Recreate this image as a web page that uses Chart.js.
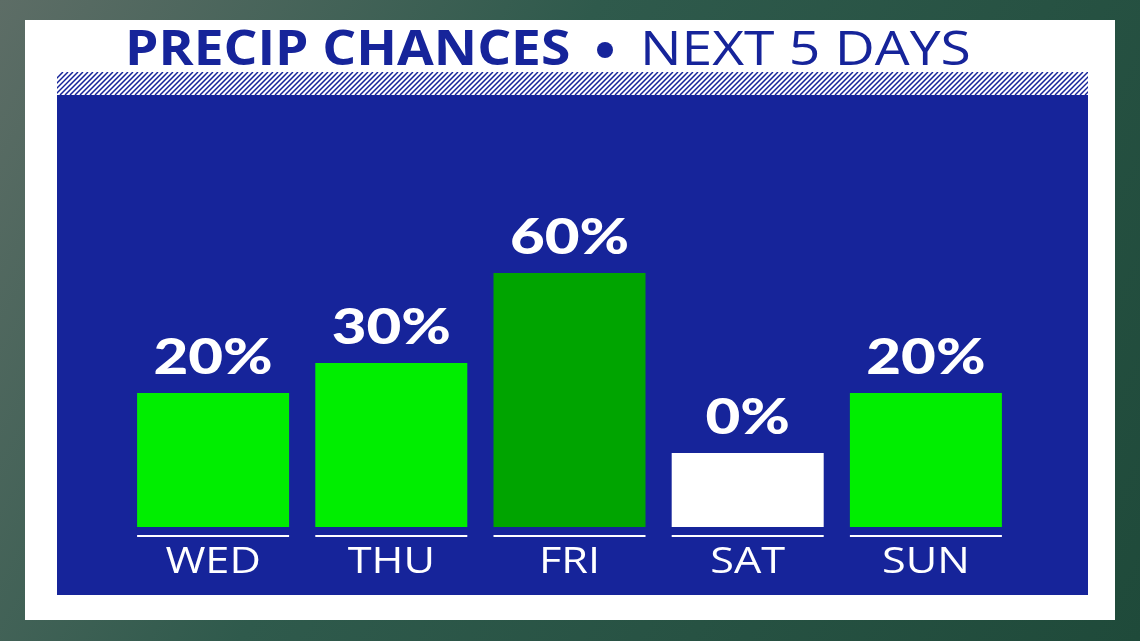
<!DOCTYPE html>
<html><head><meta charset="utf-8">
<script src="https://cdn.jsdelivr.net/npm/chart.js@4"></script>
<style>html,body{margin:0;padding:0;background:#2d4a44}canvas{display:block}</style>
</head><body>
<div style="width:1140px;height:641px"><canvas id="c" width="1140" height="641"></canvas></div>
<script>
const days = ["WED","THU","FRI","SAT","SUN"];
const chances = [20,30,60,0,20];
const labels = ["20%","30%","60%","0%","20%"];
const barColors = ["#00ee00","#00ee00","#00a400","#ffffff","#00ee00"];
const BLUE = "#16249a";

function stretched(c,txt,x,y,sx,align){
  c.save();c.translate(x,y);c.scale(sx,1);c.textAlign=align;c.fillText(txt,0,0);c.restore();
}
const deco = {
  id:'deco',
  beforeDraw(ch){
    const c=ch.ctx;
    const g=c.createLinearGradient(0,0,1140,641);
    g.addColorStop(0,'#5d6d66');g.addColorStop(0.4,'#2f5a4c');g.addColorStop(1,'#1f4a3a');
    c.fillStyle=g;c.fillRect(0,0,1140,641);
    c.fillStyle='#ffffff';c.fillRect(25,20,1090,600);
    c.fillStyle=BLUE;c.fillRect(57,95,1031,500);
    c.save();c.beginPath();c.rect(57,72,1031,23);c.clip();
    c.strokeStyle=BLUE;c.lineWidth=1.5;
    for(let x=40;x<1120;x+=5){c.beginPath();c.moveTo(x,95);c.lineTo(x+23,72);c.stroke();}
    c.restore();
    c.fillStyle=BLUE;c.textBaseline='middle';
    c.font='bold 48px "Open Sans", Lato, sans-serif';
    stretched(c,'PRECIP CHANCES',125,51,1.11,'left');
    c.beginPath();c.arc(605,50,8,0,Math.PI*2);c.fill();
    c.font='48px "Open Sans", Lato, sans-serif';
    stretched(c,'NEXT 5 DAYS',640,51,1.15,'left');
  },
  afterDatasetsDraw(ch){
    const c=ch.ctx;const meta=ch.getDatasetMeta(0);const ys=ch.scales.y;
    c.fillStyle='#fff';
    meta.data.forEach((b,i)=>{
      const w=b.width;
      c.fillRect(b.x-w/2,535,w,2);
      c.textBaseline='middle';
      c.font='37px "Open Sans", Lato, sans-serif';
      stretched(c,days[i],b.x,562,1.17,'center');
      c.font='900 50px Lato, "Open Sans", sans-serif';
      stretched(c,labels[i],b.x,ys.getPixelForValue(chances[i])-35,1.2,'center');
    });
  }
};

new Chart(document.getElementById('c'),{
  type:'bar',
  data:{labels:days,datasets:[{data:chances.map(v=>[-24.67,v]),backgroundColor:barColors,borderWidth:0,barPercentage:0.853,categoryPercentage:1}]},
  options:{responsive:false,animation:false,
    layout:{padding:{left:124,right:125,top:130,bottom:114}},
    plugins:{legend:{display:false},tooltip:{enabled:false}},
    scales:{x:{display:false},y:{display:false,min:-24.67,max:107.67}}
  },
  plugins:[deco]
});
</script>
</body></html>
